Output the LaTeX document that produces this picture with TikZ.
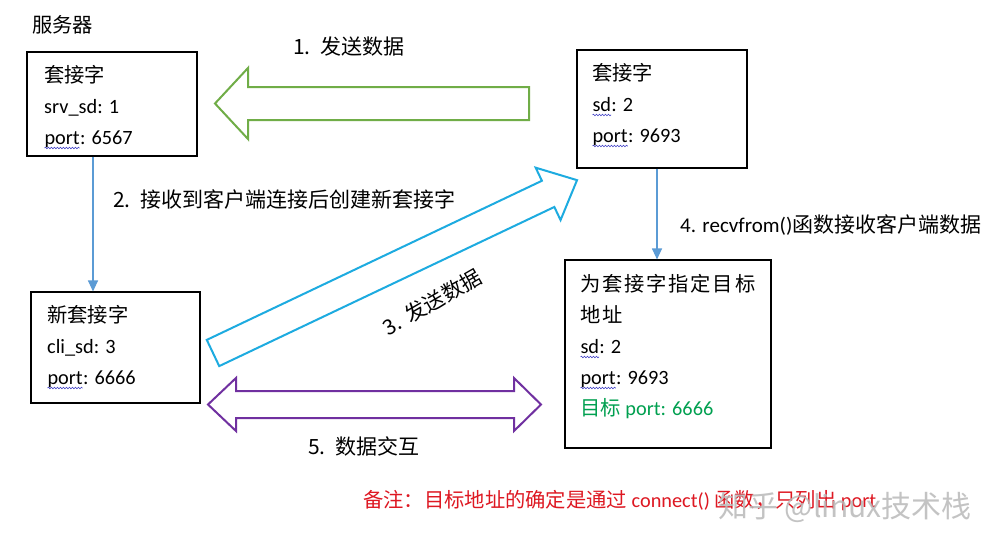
\documentclass[tikz,border=0pt]{standalone}
\usepackage{fontspec}
\setmainfont{Carlito}
\newfontfamily\cjk{Noto Sans CJK SC}
\usetikzlibrary{arrows.meta,decorations.pathmorphing}
\definecolor{arrgreen}{HTML}{70AD47}
\definecolor{connblue}{HTML}{5B9BD5}
\definecolor{arrcyan}{RGB}{29,171,224}
\definecolor{arrpurple}{HTML}{7030A0}
\definecolor{greentext}{HTML}{00A050}
\definecolor{notered}{RGB}{222,24,34}
\definecolor{squig}{RGB}{70,70,200}
\newcommand\sqw[1]{\tikz[baseline=(sqw.base)]{\node[inner sep=0pt,outer sep=0pt,anchor=base](sqw){#1};\draw[squig,line width=0.6pt,decorate,decoration={snake,amplitude=0.8pt,segment length=3pt}]([yshift=-4pt]sqw.base west)--([yshift=-4pt]sqw.base east);}}
\begin{document}
\begin{tikzpicture}[x=1pt,y=-1pt,
  box/.style={draw=black, line width=1.1pt, inner sep=0pt},
  txt/.style={inner sep=0pt, anchor=base west, font=\fontsize{20.3}{24}\selectfont},
  lbl/.style={inner sep=0pt, anchor=base west, font=\fontsize{21}{24}\selectfont},
  conn/.style={draw=connblue, line width=1.1pt, -{Triangle[width=10pt,length=11pt]}},
  bigarrow/.style={line width=2pt, line join=miter}
]
\fill[white] (0,0) rectangle (998,546);
\useasboundingbox (0,0) rectangle (998,546);

% boxes
\node[box, minimum width=170pt, minimum height=104pt] (A) at (112,104) {};
\node[box, minimum width=170pt, minimum height=118pt] (B) at (662,109) {};
\node[box, minimum width=169pt, minimum height=111pt] (C) at (115.5,347.5) {};
\node[box, minimum width=206pt, minimum height=188pt] (D) at (668,354) {};

% title
\node[txt] (srv) at (32,32) {\cjk 服务器};

% box A text
\node[txt] (a1) at (44,82) {\cjk 套接字};
\node[txt] (a2) at (44,113) {srv\_sd: 1};
\node[txt] (a3) at (44,144) {\sqw{port}: 6567};

% box B text
\node[txt] (b1) at (592,80) {\cjk 套接字};
\node[txt] (b2) at (592,111) {\sqw{sd}: 2};
\node[txt] (b3) at (592,142) {\sqw{port}: 9693};

% box C text
\node[txt] (c1) at (47,322) {\cjk 新套接字};
\node[txt] (c2) at (47,353) {cli\_sd: 3};
\node[txt] (c3) at (47,384) {\sqw{port}: 6666};

% box D text
\node[txt] (d1) at (580,291) {\cjk\addfontfeature{LetterSpace=9}为套接字指定目标};
\node[txt] (d2) at (580,322) {\cjk\addfontfeature{LetterSpace=9}地址};
\node[txt] (d3) at (580,353) {\sqw{sd}: 2};
\node[txt] (d4) at (580,384) {\sqw{port}: 9693};
\node[txt, text=greentext] (d5) at (580,415) {{\cjk 目标} port: 6666};

% connectors 2 and 4
\coordinate (x2) at (93,0);
\coordinate (x4) at (657,0);
\draw[conn] (A.south -| x2) -- (C.north -| x2);
\draw[conn] (B.south -| x4) -- (D.north -| x4);

% green block arrow (1)
\draw[bigarrow, draw=arrgreen] (529,87) -- (248,87) -- (248,68) -- (215,103.5) -- (248,139) -- (248,120) -- (529,120) -- cycle;

% cyan block arrow (3)
\begin{scope}[shift={(213,353)}, rotate=25.4]
\draw[bigarrow, draw=arrcyan] (0,-14.5) -- (371,-14.5) -- (371,-29) -- (403,0) -- (371,29) -- (371,14.5) -- (0,14.5) -- cycle;
\end{scope}

% purple double arrow (5)
\draw[bigarrow, draw=arrpurple] (208,404.5) -- (236,378) -- (236,391) -- (514,391) -- (514,378) -- (541,404.5) -- (514,431) -- (514,418) -- (236,418) -- (236,431) -- cycle;

% labels
\node[lbl] (l1) at (293,54) {\cjk 1.\hspace{10pt}发送数据};
\node[lbl] (l2) at (113,207) {\cjk 2.\hspace{10pt}接收到客户端连接后创建新套接字};
\node[inner sep=0pt, font=\cjk\fontsize{21}{24}\selectfont, rotate=30] (l3) at (432,302) {3.\hspace{8pt}发送数据};
\node[lbl] (l4) at (680,232) {4. recvfrom(){\cjk 函数接收客户端数据}};
\node[lbl] (l5) at (308,454) {\cjk 5.\hspace{10pt}数据交互};

% note
\node[txt, text=notered] (note) at (363,507) {{\cjk 备注：目标地址的确定是通过} connect() {\cjk 函数，只列出} port};

% watermark
\node[txt, text=gray!55, opacity=0.85, font=\cjk\fontsize{30}{34}\selectfont] (wm) at (718,517) {知乎 @linux技术栈};
\end{tikzpicture}
\end{document}
